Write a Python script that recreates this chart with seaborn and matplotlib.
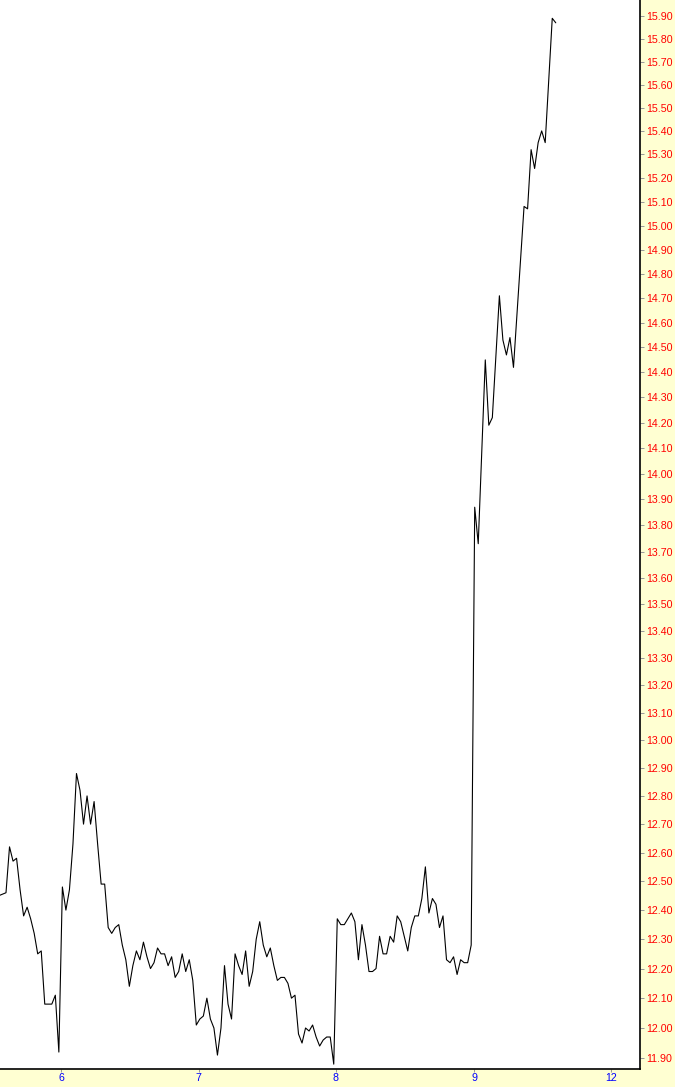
import numpy as np
import pandas as pd
import matplotlib
matplotlib.use("Agg")
import matplotlib.pyplot as plt
from matplotlib.ticker import FixedLocator, NullLocator, FuncFormatter
import seaborn as sns

# ─────────────────────────────────────────────
# DATA (bar = sequential bar number)
# ─────────────────────────────────────────────
BAR = [
    0, 2, 3, 4, 5, 6, 7, 8, 9, 10, 11, 12, 13, 15, 16, 17, 18, 19, 20, 21,
    22, 23, 24, 25, 26, 27, 28, 29, 30, 31, 32, 33, 34, 35, 36, 37, 38, 39, 40, 41,
    42, 43, 44, 45, 46, 47, 48, 49, 50, 51, 52, 53, 54, 55, 56, 57, 58, 59, 60, 61,
    62, 63, 64, 65, 66, 67, 68, 69, 70, 71, 72, 73, 74, 75, 76, 77, 78, 79, 80, 81,
    82, 83, 84, 85, 86, 87, 88, 89, 90, 91, 92, 93, 94, 95, 96, 97, 98, 99, 100, 101,
    102, 103, 104, 105, 106, 107, 108, 109, 110, 111, 112, 113, 114, 115, 116, 117, 118, 119, 120, 121,
    122, 123, 124, 125, 126, 127, 128, 129, 130, 131, 132, 133, 134, 135, 136, 138, 139, 140, 142, 143,
    144, 145, 146, 149, 150, 151, 152, 153, 154, 155, 157, 158,
]
PRICE = [
    12.45, 12.46, 12.62, 12.57, 12.58, 12.47, 12.38, 12.41, 12.37, 12.32,
    12.25, 12.26, 12.08, 12.08, 12.11, 11.92, 12.48, 12.40, 12.47, 12.63,
    12.88, 12.82, 12.70, 12.80, 12.70, 12.78, 12.63, 12.49, 12.49, 12.34,
    12.32, 12.34, 12.35, 12.28, 12.23, 12.14, 12.21, 12.26, 12.23, 12.29,
    12.24, 12.20, 12.22, 12.27, 12.25, 12.25, 12.21, 12.24, 12.17, 12.19,
    12.25, 12.19, 12.23, 12.16, 12.01, 12.03, 12.04, 12.10, 12.03, 12.00,
    11.91, 12.00, 12.21, 12.08, 12.03, 12.25, 12.21, 12.18, 12.26, 12.14,
    12.19, 12.30, 12.36, 12.28, 12.24, 12.27, 12.21, 12.16, 12.17, 12.17,
    12.15, 12.10, 12.11, 11.98, 11.95, 12.00, 11.99, 12.01, 11.97, 11.94,
    11.96, 11.97, 11.97, 11.88, 12.37, 12.35, 12.35, 12.37, 12.39, 12.36,
    12.23, 12.35, 12.28, 12.19, 12.19, 12.20, 12.31, 12.25, 12.25, 12.31,
    12.29, 12.38, 12.36, 12.31, 12.26, 12.34, 12.38, 12.38, 12.44, 12.55,
    12.39, 12.44, 12.42, 12.34, 12.38, 12.23, 12.22, 12.24, 12.18, 12.23,
    12.22, 12.22, 12.28, 13.87, 13.73, 14.45, 14.19, 14.22, 14.71, 14.53,
    14.47, 14.54, 14.42, 15.08, 15.07, 15.32, 15.24, 15.35, 15.40, 15.35,
    15.89, 15.87,
]

X_TICK_POS = [17.6, 56.7, 95.6, 134.8, 173.6]
X_TICK_LABELS = ["6", "7", "8", "9", "12"]
Y_TICKS = [round(11.9 + 0.1 * i, 2) for i in range(41)]

BG_KUNING = "#FFFFD2"

# ─────────────────────────────────────────────
# PLOT
# ─────────────────────────────────────────────
sns.set_style("white")
plt.rcParams["font.family"] = ["Liberation Sans", "DejaVu Sans"]

df = pd.DataFrame({"bar": BAR, "price": PRICE})

fig = plt.figure(figsize=(6.75, 10.87), dpi=100, facecolor=BG_KUNING)
ax = fig.add_axes([0.0, 18 / 1087, 640 / 675, 1069 / 1087])
ax.set_facecolor("white")

sns.lineplot(data=df, x="bar", y="price", color="black", linewidth=0.8, ax=ax)

ax.set_yscale("log")
ax.set_xlim(0.3, 181.9)
ax.set_ylim(11.864, 15.971)

ax.yaxis.tick_right()
ax.yaxis.set_major_locator(FixedLocator(Y_TICKS))
ax.yaxis.set_minor_locator(NullLocator())
ax.yaxis.set_major_formatter(FuncFormatter(lambda v, _: f"{v:.2f}"))
ax.tick_params(axis="y", which="major", length=3, width=0.7, color="#999999",
               labelcolor="red", labelsize=7.7, pad=1.2, right=True, left=False)

ax.xaxis.set_major_locator(FixedLocator(X_TICK_POS))
ax.xaxis.set_minor_locator(NullLocator())
ax.set_xticklabels(X_TICK_LABELS)
ax.tick_params(axis="x", which="major", length=2.5, width=0.7, color="#999999",
               labelcolor="blue", labelsize=7.7, pad=0.5, bottom=True)

ax.set_xlabel("")
ax.set_ylabel("")

for side in ["left", "top"]:
    ax.spines[side].set_visible(False)
for side in ["right", "bottom"]:
    ax.spines[side].set_color("black")
    ax.spines[side].set_linewidth(1.2)

fig.savefig("out.png", dpi=100, facecolor=fig.get_facecolor())
plt.close(fig)
